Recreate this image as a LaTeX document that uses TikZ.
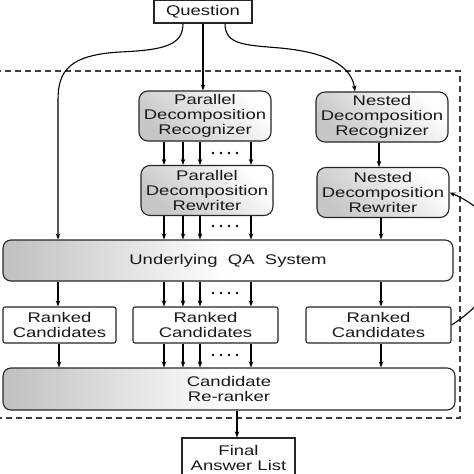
\documentclass[tikz,border=0pt]{standalone}
\usepackage{fontspec}
\setmainfont{Liberation Sans}[FakeStretch=1.32]
\usetikzlibrary{arrows.meta}

\tikzset{
    module/.style = {draw = black!85, rounded corners = 9pt, left color = gray!45, right color = white,
                     shading angle = 135, align = center, inner sep = 0pt,
                     minimum width = 132pt, minimum height = 50pt},
    bar/.style = {draw = black!85, rounded corners = 8pt, left color = gray!50, right color = white,
                  middle color = white, align = center, inner sep = 0pt},
    plain/.style = {draw = black!85, fill = white, rounded corners = 2pt, align = center,
                    inner sep = 0pt, minimum height = 36pt},
}

\begin{document}
\begin{tikzpicture}[x = 1pt, y = -1pt, line width = 1.1pt, >={Stealth[length = 6pt, width = 4.5pt]},
    font = \fontsize{14}{15}\selectfont, text = black!90]
    \useasboundingbox (0,0) rectangle (474,474);

    % system boundary
    \draw [dashed, dash pattern = on 6pt off 4pt, black!75] (-5,71) -- (460,71) -- (460,418) -- (-5,418);

    % input
    \node [plain, sharp corners, minimum width = 98pt, minimum height = 23pt] (q) at (203,11.5) {Question};

    % decomposition modules
    \node [module] (pdr) at (205,116) {Parallel\\Decomposition\\Recognizer};
    \node [module] (ndr) at (382,117) {Nested\\Decomposition\\Recognizer};
    \node [module] (pdw) at (207,190.5) {Parallel\\Decomposition\\Rewriter};
    \node [module] (ndw) at (383,192.5) {Nested\\Decomposition\\Rewriter};

    % QA system
    \node [bar, minimum width = 450pt, minimum height = 41pt] (qa) at (228,260.5) {Underlying\ \ QA\ \ System};

    % ranked lists
    \node [plain, minimum width = 113pt] (rc1) at (59.5,325) {Ranked\\Candidates};
    \node [plain, minimum width = 145pt] (rc2) at (205.5,325) {Ranked\\Candidates};
    \node [plain, minimum width = 145pt] (rc3) at (378.5,325) {Ranked\\Candidates};

    % re-ranker and output
    \node [bar, minimum width = 452pt, minimum height = 42pt] (rr) at (229,389) {Candidate\\Re-ranker};
    \node [plain, sharp corners, minimum width = 113pt, minimum height = 40pt] (fa) at (238.5,458) {Final\\Answer List};

    % question to the three branches
    \draw [->] (q.south -| 183,0) .. controls (183,45) and (165,50) .. (120,52)
        .. controls (70,55) and (58,70) .. (58,100) -- (qa.north -| 58,0);
    \draw [->] (q.south) -- (pdr.north -| q.south);
    \draw [->] (q.south -| 225,0) .. controls (225,45) and (245,45) .. (280,48)
        .. controls (335,53) and (352,70) .. (ndr.north -| 355,0);

    % parallel branch
    \foreach \x in {164,183,200,251} {
        \draw [->] (pdr.south -| \x,0) -- (pdw.north -| \x,0);
        \draw [->] (pdw.south -| \x,0) -- (qa.north -| \x,0);
        \draw [->] (qa.south -| \x,0) -- (rc2.north -| \x,0);
        \draw [->] (rc2.south -| \x,0) -- (rr.north -| \x,0);
    }
    \foreach \y in {153,226,293,355}
        \foreach \d in {0,...,3}
            \fill (213 + 8*\d, \y) circle [radius = 1.4pt];

    % nested branch
    \draw [->] (ndr.south -| 379,0) -- (ndw.north -| 379,0);
    \draw [->] (ndw.south -| 381,0) -- (qa.north -| 381,0);
    \draw [->] (qa.south -| 381,0) -- (rc3.north -| 381,0);
    \draw [->] (rc3.south -| 381,0) -- (rr.north -| 381,0);

    % direct branch
    \draw [->] (qa.south -| 58,0) -- (rc1.north -| 58,0);
    \draw [->] (rc1.south -| 59,0) -- (rr.north -| 59,0);

    % feedback to the nested rewriter
    \draw [->] (rc3.east) .. controls (515,285) and (515,220) .. (ndw.east);

    % final answers
    \draw [->] (rr.south -| 237,0) -- (fa.north -| 237,0);
\end{tikzpicture}
\end{document}
